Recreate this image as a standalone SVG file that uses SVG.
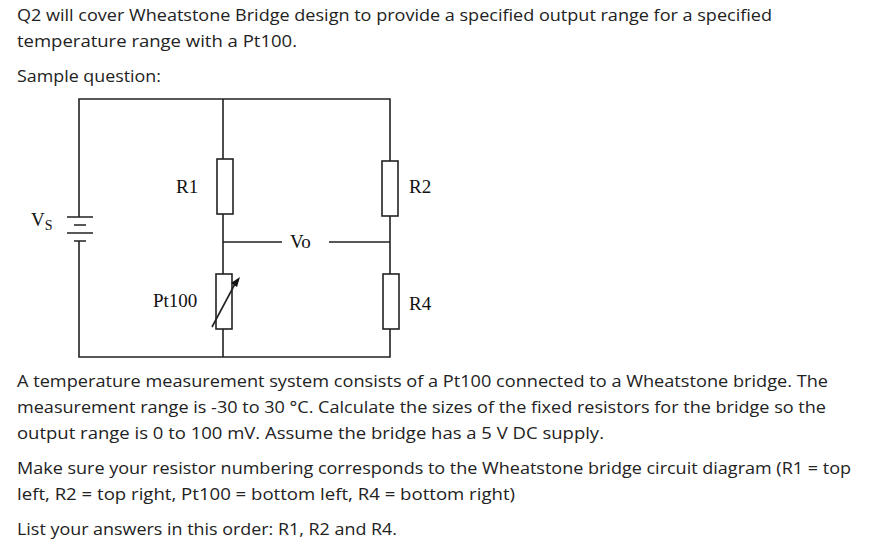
<svg xmlns="http://www.w3.org/2000/svg" width="893" height="557" viewBox="0 0 893 557">
<style>
.t{font-family:"Open Sans","Liberation Sans",sans-serif;font-size:17px;fill:#222}
.c{font-family:"Liberation Serif",serif;font-size:19px;fill:#111}
.w{stroke:#222;stroke-width:1.6;fill:none}
.r{stroke:#222;stroke-width:1.6;fill:#fff}
</style>
<rect width="893" height="557" fill="#fff"/>
<g id="text">
<text class="t" x="17" y="21" textLength="755" lengthAdjust="spacingAndGlyphs">Q2 will cover Wheatstone Bridge design to provide a specified output range for a specified</text>
<text class="t" x="17" y="47" textLength="280" lengthAdjust="spacingAndGlyphs">temperature range with a Pt100.</text>
<text class="t" x="17" y="82" textLength="144" lengthAdjust="spacingAndGlyphs">Sample question:</text>
<text class="t" x="17" y="387" textLength="811" lengthAdjust="spacingAndGlyphs">A temperature measurement system consists of a Pt100 connected to a Wheatstone bridge.  The</text>
<text class="t" x="17" y="413" textLength="809" lengthAdjust="spacingAndGlyphs">measurement range is -30 to 30 °C.  Calculate the sizes of the fixed resistors for the bridge so the</text>
<text class="t" x="17" y="439" textLength="587" lengthAdjust="spacingAndGlyphs">output range is 0 to 100 mV.  Assume the bridge has a 5 V DC supply.</text>
<text class="t" x="17" y="474" textLength="834" lengthAdjust="spacingAndGlyphs">Make sure your resistor numbering corresponds to the Wheatstone bridge circuit diagram (R1 = top</text>
<text class="t" x="17" y="500" textLength="498" lengthAdjust="spacingAndGlyphs">left, R2 = top right, Pt100 = bottom left, R4 = bottom right)</text>
<text class="t" x="17" y="535" textLength="380" lengthAdjust="spacingAndGlyphs">List your answers in this order: R1, R2 and R4.</text>
</g>
<g id="connectors">
<path class="w" d="M79 217 V99 H390 V161 M79 241 V357 H390 V329 M223 99 V159 M223 214 V274 M223 329 V357 M390 216 V274 M223 242 H282 M329 242 H390"/>
</g>
<g id="battery">
<path class="w" d="M67 217 H93 M74 225 H86 M67 233 H93 M74 241 H86"/>
<text class="c" x="31" y="226" font-size="20">V<tspan font-size="14" dy="4">S</tspan></text>
</g>
<g id="R1"><rect class="r" x="217" y="159" width="16" height="55"/><text class="c" x="176" y="193">R1</text></g>
<g id="R2"><rect class="r" x="382" y="161" width="16" height="55"/><text class="c" x="409" y="193">R2</text></g>
<g id="Pt100"><rect class="r" x="216" y="274" width="16" height="55"/>
<path class="w" d="M212 327 L236 282"/><path d="M240 277 L231 283 L237 287 Z" fill="#111"/>
<text class="c" x="153" y="307">Pt100</text></g>
<g id="R4"><rect class="r" x="383" y="274" width="16" height="55"/><text class="c" x="409" y="310">R4</text></g>
<g id="Vo"><text class="c" x="290" y="248">Vo</text></g>
</svg>
